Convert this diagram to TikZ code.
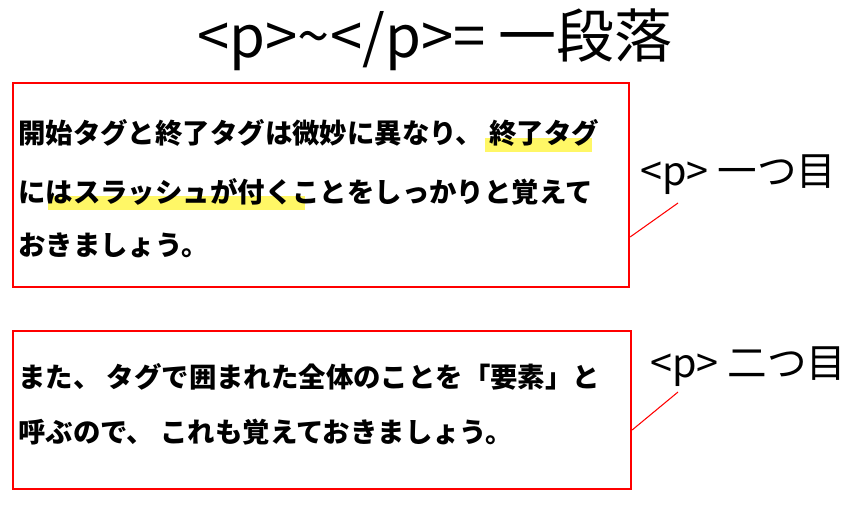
\documentclass[tikz,border=0pt]{standalone}
\usepackage{fontspec}
\setmainfont{Noto Sans CJK JP}
\tikzset{
parabox/.style  = {draw=red, line width=1.2pt},
paraline/.style = {anchor=west, inner sep=0pt, font=\fontsize{15.6}{18}\selectfont\bfseries},
marker/.style   = {fill=yellow!60, draw=none},
tag/.style      = {anchor=west, inner sep=0pt, font=\fontsize{22.5}{25}\selectfont},
pointer/.style  = {draw=red, line width=0.6pt}
}
\begin{document}
\begin{tikzpicture}[x=0.02cm, y=-0.02cm]
\useasboundingbox (0,0) rectangle (857,507);
\node[font=\fontsize{33}{36}\selectfont] (title) at (435,40) {<p>\textasciitilde</p>= 一段落};

% first paragraph
\fill[marker] (485,138) rectangle (592,152);
\fill[marker] (48,196) rectangle (305,210);
\node[parabox, minimum width=616*0.02cm, minimum height=204*0.02cm, anchor=north west] (box1) at (12,82) {};
\node[paraline] (l11) at (18,133) {開始タグと終了タグは微妙に異なり、 終了タグ};
\node[paraline] (l12) at (18,192) {にはスラッシュが付くことをしっかりと覚えて};
\node[paraline] (l13) at (18,245) {おきましょう。};
\node[tag] (tag1) at (640,175) {<p> 一つ目};
\coordinate (c1) at (678,203);
\draw[pointer] (box1.east |- 0,237) -- (c1);

% second paragraph
\node[parabox, minimum width=618*0.02cm, minimum height=158*0.02cm, anchor=north west] (box2) at (12,330) {};
\node[paraline] (l21) at (18,377) {また、 タグで囲まれた全体のことを「要素」と};
\node[paraline] (l22) at (18,432) {呼ぶので、 これも覚えておきましょう。};
\node[tag] (tag2) at (650,367) {<p> 二つ目};
\coordinate (c2) at (678,392);
\draw[pointer] (box2.east |- 0,430) -- (c2);
\end{tikzpicture}
\end{document}
